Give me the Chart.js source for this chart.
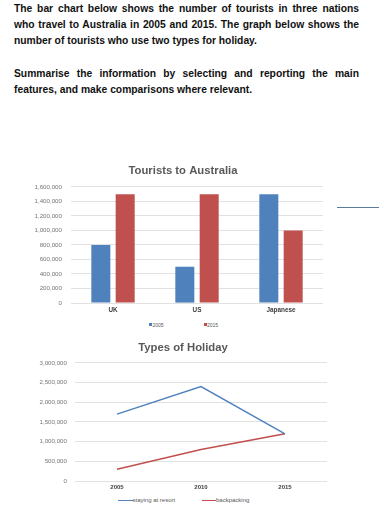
<!DOCTYPE html>
<html>
<head>
<meta charset="utf-8">
<script src="https://cdn.jsdelivr.net/npm/chart.js@4.4.1/dist/chart.umd.min.js"></script>
<style>
  html, body { margin: 0; padding: 0; background: #fff; }
  body { width: 384px; height: 512px; position: relative; overflow: hidden; font-family: "Liberation Sans", Arial, sans-serif; }
  .txt { position: absolute; left: 14px; width: 345px; font-weight: bold; font-size: 10.3px; line-height: 16.4px; color: #111; }
  .txt div { text-align: justify; text-align-last: justify; white-space: nowrap; }
  .txt div.last { text-align-last: left; }
  canvas { position: absolute; }
  .leg { position: absolute; font-size: 4.6px; color: #595959; white-space: nowrap; line-height: 6px; }
  .sw { position: absolute; }
  .deco { position: absolute; left: 337px; top: 207px; width: 42px; height: 1px; background: #5b7b9b; }
</style>
</head>
<body>
<div class="txt" style="top:0.5px">
  <div>The bar chart below shows the number of tourists in three nations</div>
  <div>who travel to Australia in 2005 and 2015. The graph below shows the</div>
  <div class="last">number of tourists who use two types for holiday.</div>
</div>
<div class="txt" style="top:65.5px">
  <div>Summarise the information by selecting and reporting the main</div>
  <div class="last">features, and make comparisons where relevant.</div>
</div>
<div class="deco"></div>

<div style="position:absolute;left:0;top:160px;width:366px;height:157px"><canvas id="bar"></canvas></div>
<div style="position:absolute;left:0;top:336px;width:366px;height:159px"><canvas id="line"></canvas></div>

<div id="barLegend"></div>
<div id="lineLegend"></div>

<script>
// ---- data ----
const barCategories = ['UK', 'US', 'Japanese'];
const barSeriesNames = ['2005', '2015'];
const tourists2005 = [800000, 500000, 1500000];
const tourists2015 = [1500000, 1500000, 1000000];
const barYMax = 1600000;
const barYStep = 200000;

const lineCategories = ['2005', '2010', '2015'];
const lineSeriesNames = ['staying at resort', 'backpacking'];
const stayingAtResort = [1700000, 2400000, 1200000];
const backpacking = [300000, 800000, 1200000];
const lineYMax = 3000000;
const lineYStep = 500000;

// ---- styles ----
const BLUE = '#4f81bd';
const RED = '#c0504d';
const GRID = '#d9d9d9';
Chart.defaults.font.family = '"Liberation Sans", Arial, sans-serif';
Chart.defaults.animation = false;

const fmt = v => Number(v).toLocaleString('en-US');

function dummyRight(w) {
  return {
    type: 'linear', position: 'right', display: true,
    grid: { display: false, drawTicks: false, tickLength: 0 }, border: { display: false },
    ticks: { display: false },
    afterFit: s => { s.width = w; }
  };
}

new Chart(document.getElementById('bar'), {
  type: 'bar',
  data: {
    labels: barCategories,
    datasets: [
      { label: barSeriesNames[0], data: tourists2005, backgroundColor: BLUE, yAxisID: 'y' },
      { label: barSeriesNames[1], data: tourists2015, backgroundColor: RED, yAxisID: 'y' }
    ]
  },
  options: {
    responsive: true, maintainAspectRatio: false,
    layout: { padding: 0 },
    datasets: { bar: { categoryPercentage: 0.58, barPercentage: 0.78 } },
    plugins: {
      legend: { display: false },
      tooltip: { enabled: false },
      title: { display: true, text: 'Tourists to Australia', color: '#595959',
               font: { size: 11.3, weight: 'bold' }, padding: { top: 4.2, bottom: 9.2 } }
    },
    scales: {
      x: {
        grid: { display: false, drawTicks: false, tickLength: 0 }, border: { display: false },
        ticks: { color: '#404040', font: { size: 6.4, weight: 'bold' }, padding: 3.5, maxRotation: 0, autoSkip: false },
        afterFit: s => { s.height = 14; }
      },
      y: {
        min: 0, max: barYMax,
        grid: { color: GRID, drawTicks: false, tickLength: 0, lineWidth: 0.8 }, border: { display: false },
        ticks: { stepSize: barYStep, color: '#767676', font: { size: 6.2 }, padding: 9, callback: fmt },
        afterFit: s => { s.width = 71; }
      },
      y2: dummyRight(43)
    }
  }
});

new Chart(document.getElementById('line'), {
  type: 'line',
  data: {
    labels: lineCategories,
    datasets: [
      { label: lineSeriesNames[0], data: stayingAtResort, borderColor: BLUE, backgroundColor: BLUE, borderWidth: 1.4, pointRadius: 0, tension: 0, yAxisID: 'y' },
      { label: lineSeriesNames[1], data: backpacking, borderColor: RED, backgroundColor: RED, borderWidth: 1.4, pointRadius: 0, tension: 0, yAxisID: 'y' }
    ]
  },
  options: {
    responsive: true, maintainAspectRatio: false,
    layout: { padding: 0 },
    plugins: {
      legend: { display: false },
      tooltip: { enabled: false },
      title: { display: true, text: 'Types of Holiday', color: '#595959',
               font: { size: 11.3, weight: 'bold' }, padding: { top: 5.2, bottom: 8.2 } }
    },
    scales: {
      x: {
        offset: true,
        grid: { display: false, drawTicks: false, tickLength: 0 }, border: { display: false },
        ticks: { color: '#404040', font: { size: 6, weight: 'bold' }, padding: 3, maxRotation: 0, autoSkip: false },
        afterFit: s => { s.height = 14; }
      },
      y: {
        min: 0, max: lineYMax,
        grid: { color: GRID, drawTicks: false, tickLength: 0, lineWidth: 0.8 }, border: { display: false },
        ticks: { stepSize: lineYStep, color: '#767676', font: { size: 6.2 }, padding: 8, callback: fmt },
        afterFit: s => { s.width = 75; }
      },
      y2: dummyRight(39)
    }
  }
});

// ---- HTML legends built from the series names ----
function addLegend(containerId, items) {
  const c = document.getElementById(containerId);
  items.forEach(it => {
    const sw = document.createElement('div');
    sw.className = 'sw';
    Object.assign(sw.style, { left: it.sx + 'px', top: it.sy + 'px', width: it.sw + 'px', height: it.sh + 'px', background: it.color });
    c.appendChild(sw);
    const t = document.createElement('div');
    t.className = 'leg';
    t.textContent = it.text;
    Object.assign(t.style, { left: it.tx + 'px', top: it.ty + 'px', fontSize: it.fs + 'px' });
    c.appendChild(t);
  });
}
addLegend('barLegend', [
  { text: barSeriesNames[0], color: BLUE, sx: 149, sy: 323.3, sw: 3, sh: 3, tx: 152.5, ty: 321.7, fs: 5 },
  { text: barSeriesNames[1], color: RED,  sx: 203.5, sy: 323.3, sw: 3, sh: 3, tx: 207, ty: 321.7, fs: 5 }
]);
addLegend('lineLegend', [
  { text: lineSeriesNames[0], color: BLUE, sx: 118, sy: 499.6, sw: 14.5, sh: 1.4, tx: 132.5, ty: 497.3, fs: 6 },
  { text: lineSeriesNames[1], color: RED,  sx: 201.5, sy: 499.6, sw: 14.5, sh: 1.4, tx: 216, ty: 497.3, fs: 6 }
]);
</script>
</body>
</html>
